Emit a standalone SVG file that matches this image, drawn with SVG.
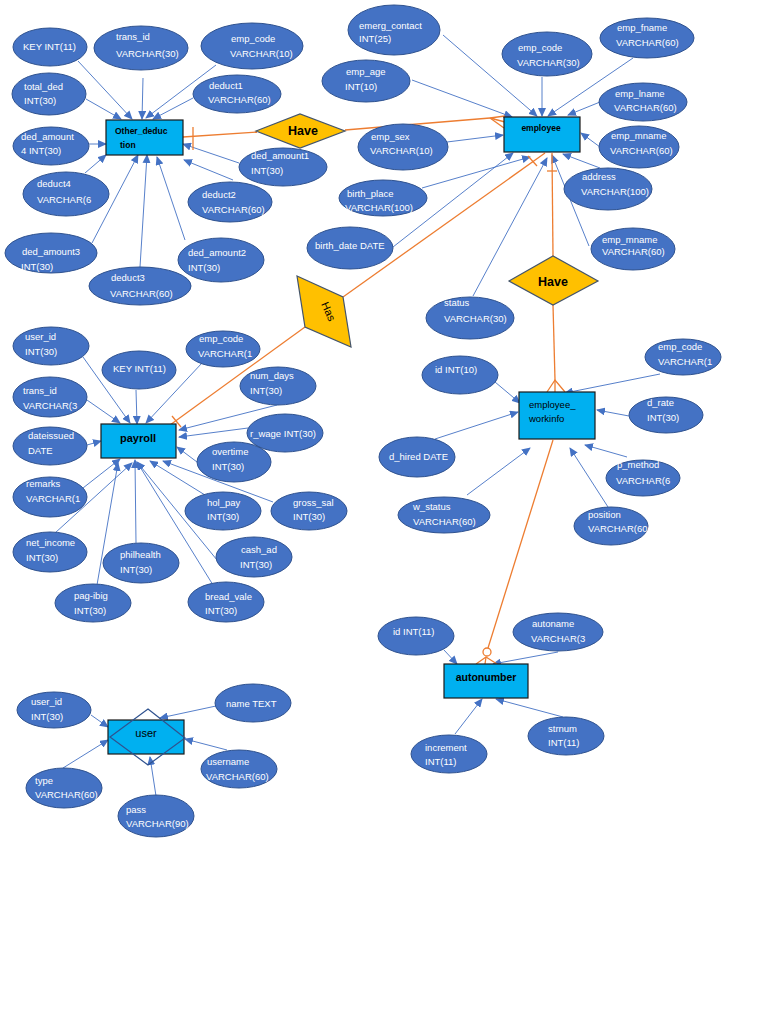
<svg xmlns="http://www.w3.org/2000/svg" width="768" height="1024" viewBox="0 0 768 1024">
<style>
.a{fill:#4472C4;stroke:#2F528F;stroke-width:1}
.e{fill:#00B0F0;stroke:#1A1A1A;stroke-width:1.2}
.r{fill:#FFC000;stroke:#44546A;stroke-width:1.2}
.t{font-family:"Liberation Sans",Arial,sans-serif;font-size:9.5px;fill:#FFFFFF}
.k{font-family:"Liberation Sans",Arial,sans-serif;fill:#000000}
.c line{stroke:#4472C4;stroke-width:0.9;marker-end:url(#ah)}
.o{stroke:#ED7D31;stroke-width:1.3;fill:none}
</style>
<defs>
<marker id="ah" markerWidth="9" markerHeight="8" refX="8" refY="4" orient="auto" markerUnits="userSpaceOnUse">
<path d="M0,0 L9,4 L0,8 z" fill="#4472C4"/>
</marker>
</defs>
<rect width="768" height="1024" fill="#FFFFFF"/>

<g id="connectors">
<g class="c">
<!-- other_deduction -->
<line x1="78" y1="61" x2="132" y2="119"/>
<line x1="143" y1="78" x2="142" y2="119"/>
<line x1="216" y1="65" x2="146" y2="118"/>
<line x1="86" y1="99" x2="121" y2="119"/>
<line x1="193" y1="98" x2="153" y2="119"/>
<line x1="89" y1="144" x2="106" y2="144"/>
<line x1="85" y1="173" x2="106" y2="155"/>
<line x1="239" y1="163" x2="183" y2="144"/>
<line x1="233" y1="180" x2="184" y2="160"/>
<line x1="92" y1="243" x2="138" y2="155"/>
<line x1="140" y1="267" x2="147" y2="155"/>
<line x1="185" y1="240" x2="157" y2="157"/>
<!-- employee -->
<line x1="443" y1="35" x2="537" y2="116"/>
<line x1="542" y1="77" x2="542" y2="116"/>
<line x1="633" y1="58" x2="548" y2="116"/>
<line x1="412" y1="80" x2="512" y2="117"/>
<line x1="600" y1="102" x2="568" y2="115"/>
<line x1="447" y1="142" x2="503" y2="135"/>
<line x1="600" y1="147" x2="581" y2="133"/>
<line x1="600" y1="168" x2="563" y2="154"/>
<line x1="422" y1="188" x2="530" y2="157"/>
<line x1="393" y1="247" x2="513" y2="153"/>
<line x1="473" y1="296" x2="547" y2="158"/>
<line x1="589" y1="246" x2="552" y2="155"/>
<!-- payroll -->
<line x1="83" y1="357" x2="130" y2="423"/>
<line x1="136" y1="390" x2="137" y2="424"/>
<line x1="202" y1="363" x2="146" y2="423"/>
<line x1="87" y1="400" x2="120" y2="423"/>
<line x1="277" y1="405" x2="179" y2="430"/>
<line x1="248" y1="428" x2="179" y2="437"/>
<line x1="87" y1="445" x2="101" y2="441"/>
<line x1="197" y1="462" x2="177" y2="447"/>
<line x1="273" y1="502" x2="163" y2="461"/>
<line x1="205" y1="495" x2="150" y2="461"/>
<line x1="83" y1="488" x2="120" y2="459"/>
<line x1="55" y1="533" x2="132" y2="463"/>
<line x1="136" y1="543" x2="135" y2="460"/>
<line x1="97" y1="585" x2="118" y2="463"/>
<line x1="217" y1="560" x2="137" y2="462"/>
<line x1="213" y1="585" x2="137" y2="462"/>
<!-- employee_workinfo -->
<line x1="495" y1="382" x2="520" y2="403"/>
<line x1="660" y1="374" x2="565" y2="393"/>
<line x1="629" y1="416" x2="597" y2="410"/>
<line x1="435" y1="439" x2="518" y2="412"/>
<line x1="627" y1="457" x2="585" y2="445"/>
<line x1="467" y1="495" x2="530" y2="448"/>
<line x1="608" y1="507" x2="570" y2="448"/>
<!-- autonumber -->
<line x1="444" y1="650" x2="457" y2="664"/>
<line x1="558" y1="652" x2="493" y2="664"/>
<line x1="455" y1="734" x2="482" y2="699"/>
<line x1="563" y1="717" x2="496" y2="699"/>
<!-- user -->
<line x1="91" y1="715" x2="108" y2="727"/>
<line x1="216" y1="706" x2="160" y2="718"/>
<line x1="227" y1="750" x2="185" y2="739"/>
<line x1="63" y1="768" x2="108" y2="740"/>
<line x1="156" y1="796" x2="150" y2="757"/>
</g>
<g class="o">
<line x1="183" y1="137" x2="257" y2="132"/>
<line x1="193" y1="127" x2="193" y2="150"/>
<line x1="345" y1="130" x2="490" y2="118"/>
<polyline points="505,116 490,118 505,122"/>
<line x1="490" y1="118" x2="504" y2="128"/>
<line x1="343" y1="297" x2="545" y2="153"/>
<line x1="528" y1="156" x2="537" y2="166"/>
<line x1="305" y1="327" x2="170" y2="425"/>
<line x1="172" y1="416" x2="181" y2="427"/>
<line x1="552" y1="153" x2="553" y2="256"/>
<line x1="547" y1="171" x2="557" y2="171"/>
<line x1="553" y1="305" x2="555" y2="380"/>
<polyline points="547,392 555,380 565,392"/>
<line x1="555" y1="380" x2="555" y2="392"/>
<line x1="553" y1="440" x2="488" y2="648"/>
<circle cx="487" cy="652" r="4" fill="#FFFFFF"/>
<polyline points="476,664 486,657 497,664"/>
<line x1="486" y1="657" x2="485" y2="664"/>
</g>
</g>

<g id="other_deduction">
<rect class="e" x="106" y="120" width="77" height="35"/>
<text class="k" font-size="8.5" font-weight="bold" x="115" y="134">Other_deduc</text>
<text class="k" font-size="8.5" font-weight="bold" x="120" y="148">tion</text>
</g>
<g id="od_key"><ellipse class="a" cx="50" cy="47" rx="37" ry="19"/><text class="t" x="23" y="50">KEY INT(11)</text></g>
<g id="od_trans_id"><ellipse class="a" cx="141" cy="48" rx="47" ry="22"/><text class="t" x="116" y="40">trans_id</text><text class="t" x="116" y="57">VARCHAR(30)</text></g>
<g id="od_emp_code"><ellipse class="a" cx="252" cy="46" rx="51" ry="23"/><text class="t" x="231" y="42">emp_code</text><text class="t" x="230" y="57">VARCHAR(10)</text></g>
<g id="od_total_ded"><ellipse class="a" cx="49" cy="94" rx="37" ry="21"/><text class="t" x="24" y="90">total_ded</text><text class="t" x="24" y="104">INT(30)</text></g>
<g id="od_deduct1"><ellipse class="a" cx="237" cy="94" rx="44" ry="19"/><text class="t" x="209" y="89">deduct1</text><text class="t" x="208" y="103">VARCHAR(60)</text></g>
<g id="od_ded_amount4"><ellipse class="a" cx="51" cy="146" rx="38" ry="19"/><text class="t" x="21" y="140">ded_amount</text><text class="t" x="21" y="154">4 INT(30)</text></g>
<g id="od_deduct4"><ellipse class="a" cx="66" cy="194" rx="43" ry="22"/><text class="t" x="37" y="187">deduct4</text><text class="t" x="37" y="203">VARCHAR(6</text></g>
<g id="od_ded_amount1"><ellipse class="a" cx="283" cy="167" rx="44" ry="19"/><text class="t" x="251" y="159">ded_amount1</text><text class="t" x="251" y="174">INT(30)</text></g>
<g id="od_deduct2"><ellipse class="a" cx="230" cy="202" rx="42" ry="20"/><text class="t" x="202" y="198">deduct2</text><text class="t" x="202" y="213">VARCHAR(60)</text></g>
<g id="od_ded_amount3"><ellipse class="a" cx="51" cy="253" rx="46" ry="20"/><text class="t" x="22" y="255">ded_amount3</text><text class="t" x="21" y="270">INT(30)</text></g>
<g id="od_deduct3"><ellipse class="a" cx="140" cy="286" rx="51" ry="19"/><text class="t" font-size="11.5" x="111" y="281">deduct3</text><text class="t" x="110" y="297">VARCHAR(60)</text></g>
<g id="od_ded_amount2"><ellipse class="a" cx="221" cy="260" rx="43" ry="22"/><text class="t" x="188" y="256">ded_amount2</text><text class="t" x="188" y="271">INT(30)</text></g>

<g id="rel_have_1">
<polygon class="r" points="256,131 300,114 345,131 300,148"/>
<text class="k" font-size="12.5" font-weight="bold" x="303" y="135" text-anchor="middle">Have</text>
</g>

<g id="employee">
<rect class="e" x="504" y="117" width="76" height="35"/>
<text class="k" font-size="8.5" font-weight="bold" x="541" y="131" text-anchor="middle">employee</text>
</g>
<g id="e_emerg_contact"><ellipse class="a" cx="394" cy="30" rx="46" ry="25"/><text class="t" x="359" y="29">emerg_contact</text><text class="t" x="359" y="42">INT(25)</text></g>
<g id="e_emp_code"><ellipse class="a" cx="547" cy="54" rx="45" ry="22"/><text class="t" x="518" y="51">emp_code</text><text class="t" x="517" y="66">VARCHAR(30)</text></g>
<g id="e_emp_fname"><ellipse class="a" cx="647" cy="38" rx="47" ry="20"/><text class="t" x="617" y="31">emp_fname</text><text class="t" x="616" y="46">VARCHAR(60)</text></g>
<g id="e_emp_age"><ellipse class="a" cx="366" cy="81" rx="44" ry="21"/><text class="t" x="346" y="75">emp_age</text><text class="t" x="345" y="90">INT(10)</text></g>
<g id="e_emp_lname"><ellipse class="a" cx="643" cy="102" rx="44" ry="19"/><text class="t" x="615" y="97">emp_lname</text><text class="t" x="614" y="111">VARCHAR(60)</text></g>
<g id="e_emp_sex"><ellipse class="a" cx="403" cy="147" rx="45" ry="23"/><text class="t" x="371" y="140">emp_sex</text><text class="t" x="370" y="154">VARCHAR(10)</text></g>
<g id="e_emp_mname"><ellipse class="a" cx="639" cy="147" rx="40" ry="21"/><text class="t" x="611" y="139">emp_mname</text><text class="t" x="610" y="154">VARCHAR(60)</text></g>
<g id="e_address"><ellipse class="a" cx="608" cy="189" rx="44" ry="21"/><text class="t" x="582" y="180">address</text><text class="t" x="581" y="195">VARCHAR(100)</text></g>
<g id="e_birth_place"><ellipse class="a" cx="383" cy="198" rx="44" ry="18"/><text class="t" x="347" y="197">birth_place</text><text class="t" x="345" y="211">VARCHAR(100)</text></g>
<g id="e_birth_date"><ellipse class="a" cx="350" cy="248" rx="43" ry="21"/><text class="t" x="315" y="249">birth_date DATE</text></g>
<g id="e_emp_mname_2"><ellipse class="a" cx="633" cy="249" rx="42" ry="21"/><text class="t" font-size="7.5" x="602" y="243">emp_mname</text><text class="t" font-size="7.5" x="602" y="255">VARCHAR(60)</text></g>
<g id="e_status"><ellipse class="a" cx="470" cy="318" rx="44" ry="21"/><text class="t" x="444" y="306">status</text><text class="t" x="444" y="322">VARCHAR(30)</text></g>

<g id="rel_have_2">
<polygon class="r" points="509,281 553,256 598,281 553,305"/>
<text class="k" font-size="12.5" font-weight="bold" x="553" y="286" text-anchor="middle">Have</text>
</g>

<g id="rel_has">
<polygon class="r" points="297,276 343,297 351,347 305,327"/>
<text class="k" font-size="11" x="0" y="0" text-anchor="middle" transform="translate(325,313) rotate(66)">Has</text>
</g>

<g id="payroll">
<rect class="e" x="101" y="424" width="75" height="34"/>
<text class="k" font-size="11" font-weight="bold" x="138" y="442" text-anchor="middle">payroll</text>
</g>
<g id="p_user_id"><ellipse class="a" cx="51" cy="346" rx="38" ry="19"/><text class="t" x="25" y="340">user_id</text><text class="t" x="25" y="355">INT(30)</text></g>
<g id="p_key"><ellipse class="a" cx="139" cy="370" rx="37" ry="19"/><text class="t" x="113" y="372">KEY INT(11)</text></g>
<g id="p_emp_code"><ellipse class="a" cx="223" cy="349" rx="37" ry="18"/><text class="t" x="199" y="342">emp_code</text><text class="t" x="198" y="357">VARCHAR(1</text></g>
<g id="p_num_days"><ellipse class="a" cx="278" cy="386" rx="38" ry="19"/><text class="t" x="250" y="379">num_days</text><text class="t" x="250" y="394">INT(30)</text></g>
<g id="p_trans_id"><ellipse class="a" cx="50" cy="397" rx="37" ry="20"/><text class="t" x="23" y="394">trans_id</text><text class="t" x="23" y="409">VARCHAR(3</text></g>
<g id="p_r_wage"><ellipse class="a" cx="285" cy="433" rx="38" ry="19"/><text class="t" x="250" y="437">r_wage INT(30)</text></g>
<g id="p_dateissued"><ellipse class="a" cx="50" cy="446" rx="37" ry="19"/><text class="t" x="28" y="439">dateissued</text><text class="t" x="28" y="454">DATE</text></g>
<g id="p_overtime"><ellipse class="a" cx="234" cy="462" rx="37" ry="20"/><text class="t" x="212" y="455">overtime</text><text class="t" x="212" y="470">INT(30)</text></g>
<g id="p_remarks"><ellipse class="a" cx="50" cy="497" rx="37" ry="20"/><text class="t" x="26" y="487">remarks</text><text class="t" x="26" y="502">VARCHAR(1</text></g>
<g id="p_hol_pay"><ellipse class="a" cx="223" cy="511" rx="38" ry="19"/><text class="t" x="207" y="506">hol_pay</text><text class="t" x="207" y="520">INT(30)</text></g>
<g id="p_gross_sal"><ellipse class="a" cx="309" cy="511" rx="38" ry="19"/><text class="t" x="293" y="506">gross_sal</text><text class="t" x="293" y="520">INT(30)</text></g>
<g id="p_net_income"><ellipse class="a" cx="50" cy="552" rx="37" ry="20"/><text class="t" x="26" y="546">net_income</text><text class="t" x="26" y="561">INT(30)</text></g>
<g id="p_philhealth"><ellipse class="a" cx="141" cy="563" rx="38" ry="20"/><text class="t" x="120" y="558">philhealth</text><text class="t" x="120" y="573">INT(30)</text></g>
<g id="p_cash_ad"><ellipse class="a" cx="254" cy="557" rx="38" ry="20"/><text class="t" x="241" y="553">cash_ad</text><text class="t" x="240" y="568">INT(30)</text></g>
<g id="p_pag_ibig"><ellipse class="a" cx="93" cy="603" rx="38" ry="19"/><text class="t" x="74" y="599">pag-ibig</text><text class="t" x="74" y="614">INT(30)</text></g>
<g id="p_bread_vale"><ellipse class="a" cx="226" cy="602" rx="38" ry="20"/><text class="t" x="205" y="600">bread_vale</text><text class="t" x="205" y="614">INT(30)</text></g>

<g id="employee_workinfo">
<rect class="e" x="519" y="392" width="76" height="47"/>
<text class="k" font-size="9.5" x="529" y="408">employee_</text>
<text class="k" font-size="9.5" x="529" y="422">workinfo</text>
</g>
<g id="w_id"><ellipse class="a" cx="460" cy="375" rx="38" ry="19"/><text class="t" x="435" y="373">id INT(10)</text></g>
<g id="w_emp_code"><ellipse class="a" cx="683" cy="357" rx="38" ry="18"/><text class="t" x="658" y="350">emp_code</text><text class="t" x="658" y="365">VARCHAR(1</text></g>
<g id="w_d_rate"><ellipse class="a" cx="666" cy="415" rx="37" ry="18"/><text class="t" x="647" y="406">d_rate</text><text class="t" x="647" y="421">INT(30)</text></g>
<g id="w_d_hired"><ellipse class="a" cx="417" cy="457" rx="38" ry="20"/><text class="t" x="389" y="460">d_hired DATE</text></g>
<g id="w_p_method"><ellipse class="a" cx="643" cy="478" rx="37" ry="18"/><text class="t" x="617" y="468">p_method</text><text class="t" x="616" y="484">VARCHAR(6</text></g>
<g id="w_w_status"><ellipse class="a" cx="444" cy="515" rx="46" ry="18"/><text class="t" x="413" y="510">w_status</text><text class="t" x="413" y="525">VARCHAR(60)</text></g>
<g id="w_position"><ellipse class="a" cx="611" cy="526" rx="37" ry="19"/><text class="t" x="588" y="518">position</text><text class="t" x="588" y="532">VARCHAR(60</text></g>

<g id="autonumber">
<rect class="e" x="444" y="664" width="84" height="34"/>
<text class="k" font-size="10.5" font-weight="bold" x="486" y="681" text-anchor="middle">autonumber</text>
</g>
<g id="a_id"><ellipse class="a" cx="416" cy="636" rx="38" ry="19"/><text class="t" x="393" y="635">id INT(11)</text></g>
<g id="a_autoname"><ellipse class="a" cx="558" cy="632" rx="45" ry="19"/><text class="t" x="532" y="627">autoname</text><text class="t" x="531" y="642">VARCHAR(3</text></g>
<g id="a_increment"><ellipse class="a" cx="449" cy="754" rx="38" ry="19"/><text class="t" x="425" y="751">increment</text><text class="t" x="425" y="765">INT(11)</text></g>
<g id="a_strnum"><ellipse class="a" cx="566" cy="736" rx="38" ry="19"/><text class="t" x="548" y="732">strnum</text><text class="t" x="548" y="746">INT(11)</text></g>

<g id="user">
<rect class="e" x="108" y="720" width="76" height="34"/>
<polygon points="148,709 185,738 148,765 110,737" fill="none" stroke="#2F528F" stroke-width="1.2"/>
<text class="k" font-size="11" x="146" y="737" text-anchor="middle">user</text>
</g>
<g id="u_user_id"><ellipse class="a" cx="54" cy="710" rx="37" ry="18"/><text class="t" x="31" y="705">user_id</text><text class="t" x="31" y="720">INT(30)</text></g>
<g id="u_name"><ellipse class="a" cx="253" cy="703" rx="38" ry="19"/><text class="t" x="226" y="707">name TEXT</text></g>
<g id="u_username"><ellipse class="a" cx="239" cy="769" rx="38" ry="19"/><text class="t" x="207" y="765">username</text><text class="t" x="206" y="780">VARCHAR(60)</text></g>
<g id="u_type"><ellipse class="a" cx="64" cy="788" rx="38" ry="20"/><text class="t" x="35" y="784">type</text><text class="t" x="35" y="798">VARCHAR(60)</text></g>
<g id="u_pass"><ellipse class="a" cx="156" cy="816" rx="38" ry="21"/><text class="t" x="126" y="813">pass</text><text class="t" x="126" y="827">VARCHAR(90)</text></g>
</svg>
